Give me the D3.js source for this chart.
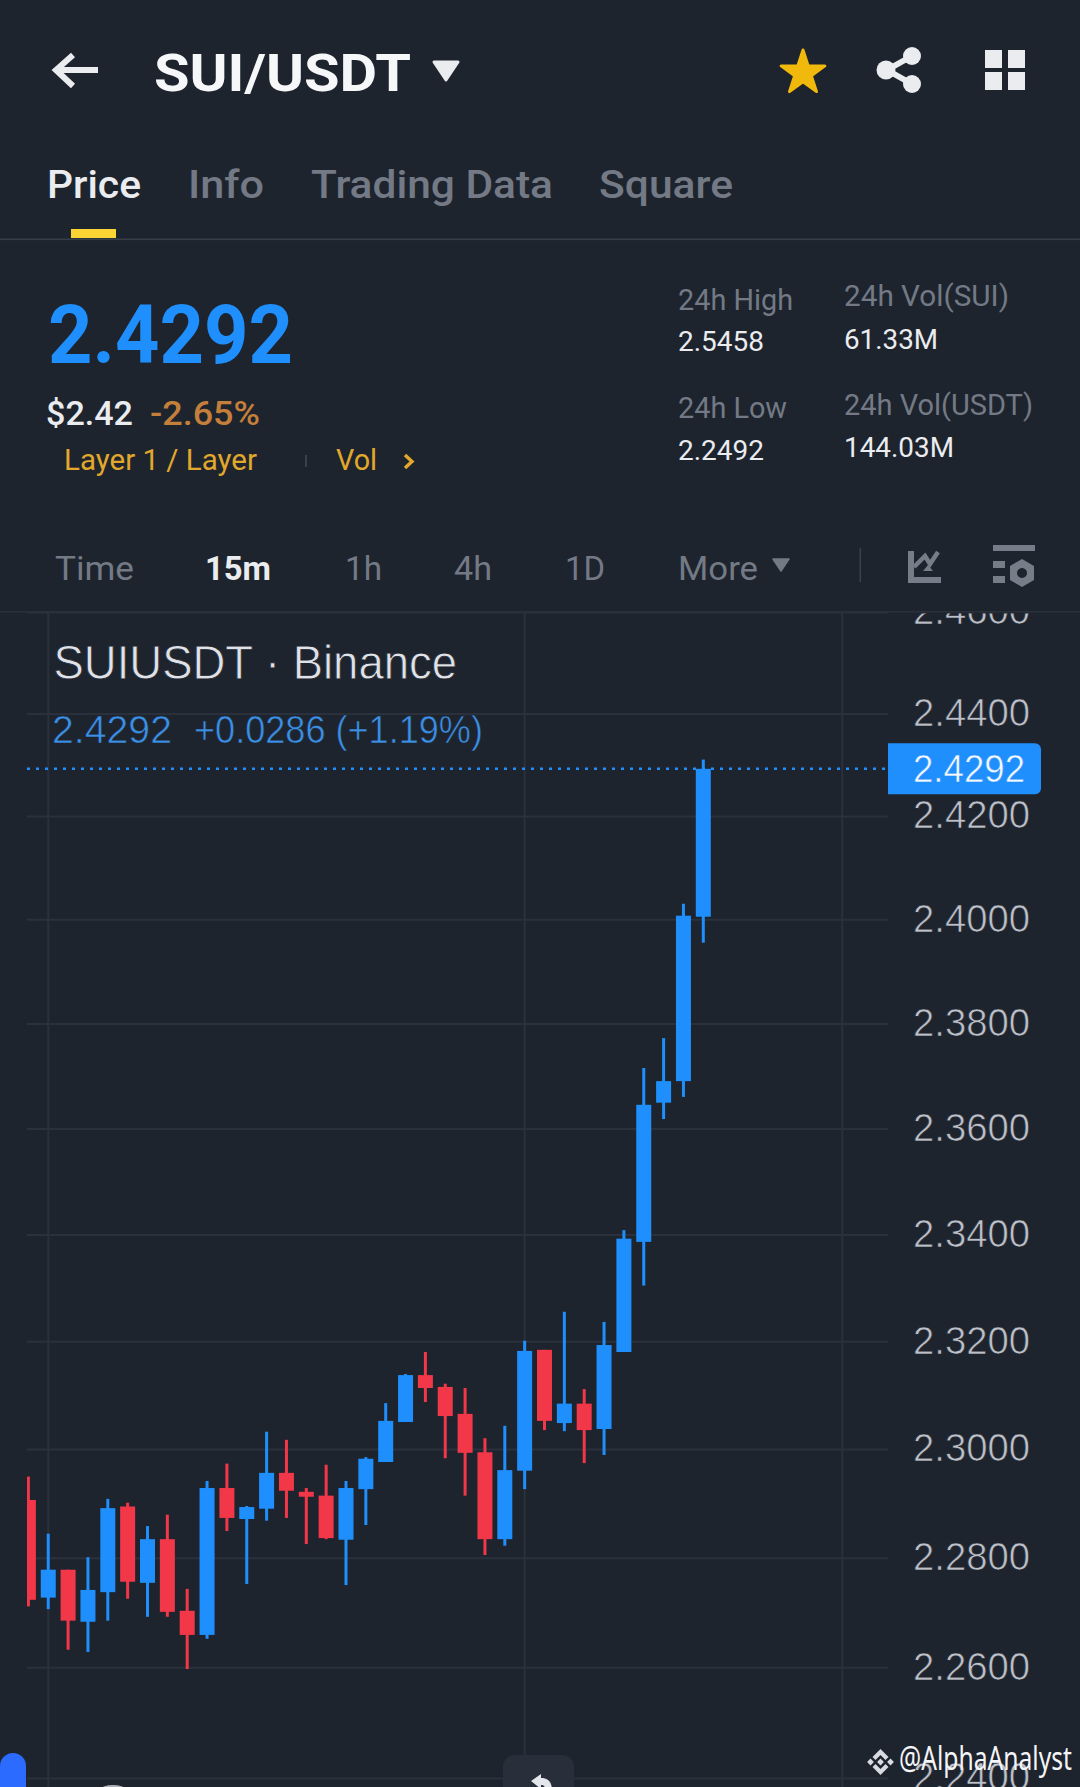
<!DOCTYPE html>
<html><head><meta charset="utf-8">
<style>html,body{margin:0;padding:0;background:#1e242e;overflow:hidden}svg{display:block}</style>
<script src="https://cdn.jsdelivr.net/npm/d3@7/dist/d3.min.js"></script>
</head><body><div id="c"></div>
<script>
const opens =[2.2906,2.2727,2.2778,2.2683,2.2737,2.2894,2.2754,2.2834,2.2703,2.2659,2.2928,2.2871,2.2890,2.2956,2.2921,2.2914,2.2833,2.2926,2.2976,2.3050,2.3137,2.3115,2.3065,2.2994,2.2834,2.2960,2.3184,2.3048,2.3084,2.3037,2.3180,2.3386,2.3649,2.3690,2.4005];
const highs =[2.2949,2.2844,2.2778,2.2801,2.2908,2.2901,2.2858,2.2879,2.2743,2.2941,2.2973,2.2895,2.3032,2.3017,2.2928,2.2971,2.2941,2.2985,2.3085,2.3139,2.3180,2.3121,2.3113,2.3020,2.3043,2.3201,2.3184,2.3255,2.3111,2.3236,2.3408,2.3715,2.3772,2.4030,2.4310];
const lows  =[2.2711,2.2706,2.2632,2.2628,2.2685,2.2725,2.2692,2.2692,2.2597,2.2652,2.2849,2.2752,2.2868,2.2873,2.2825,2.2834,2.2750,2.2860,2.2976,2.3050,2.3087,2.2983,2.2914,2.2805,2.2822,2.2926,2.3035,2.3033,2.2974,2.2989,2.3180,2.3304,2.3618,2.3660,2.3955];
const closes=[2.2723,2.2778,2.2685,2.2741,2.2891,2.2756,2.2834,2.2701,2.2659,2.2928,2.2873,2.2893,2.2956,2.2923,2.2912,2.2836,2.2928,2.2982,2.3052,2.3137,2.3113,2.3061,2.2993,2.2834,2.2961,2.3182,2.3052,2.3084,2.3035,2.3193,2.3392,2.3645,2.3690,2.4007,2.4292];
const candleIndex = d3.range(opens.length);
const priceTicks=[2.46,2.44,2.42,2.40,2.38,2.36,2.34,2.32,2.30,2.28,2.26,2.24];
const lastPrice=2.4292;
const timeTicks=[1,25,41];

const W=1080,H=1787, BG='#1e242e', BLUE='#1f8ffd', RED='#f23748', GRID='#2b313c', UI='Roboto, sans-serif', CH='"Liberation Sans", sans-serif';
const svg=d3.select('#c').append('svg').attr('width',W).attr('height',H).attr('viewBox',`0 0 ${W} ${H}`);
svg.append('rect').attr('width',W).attr('height',H).attr('fill',BG);

const defs=svg.append('defs');
defs.append('clipPath').attr('id','plot').append('rect').attr('x',27).attr('y',612).attr('width',861).attr('height',H-612);

const y=d3.scaleLog().domain([2.24,2.46]).range([1778,612]);
const x=d3.scaleLinear().domain([0,candleIndex.length-1]).range([28.4,703.3]);
const BODY=15, WICK=3;

// full-width separators
svg.append('rect').attr('x',0).attr('y',238.5).attr('width',W).attr('height',1.6).attr('fill','#383e49');
svg.append('rect').attr('x',0).attr('y',611).attr('width',W).attr('height',1.6).attr('fill','#2a303a');

// vertical grid
svg.append('g').selectAll('rect').data(timeTicks).join('rect')
  .attr('x',d=>x(d)-1).attr('y',612).attr('width',2).attr('height',H-612).attr('fill',GRID);

// axis (horizontal grid and labels)
const axis=d3.axisRight(y).tickValues(priceTicks).tickFormat(d3.format('.4f')).tickSize(861).tickPadding(0);
const ag=svg.append('g').attr('transform','translate(27,0)').call(axis);
ag.select('.domain').remove();
ag.selectAll('line').attr('stroke',GRID).attr('stroke-width',2);
ag.selectAll('text').attr('x',886).attr('fill','#bcc0c8').attr('stroke',BG).attr('stroke-width',0.7)
  .attr('font-family',CH).attr('font-size',38).attr('dy','0.31em').attr('textLength',117).attr('lengthAdjust','spacingAndGlyphs');
// the top label is cut by the chart's upper edge
defs.append('clipPath').attr('id','tickTop').append('rect').attr('x',850).attr('y',1).attr('width',200).attr('height',60);
ag.selectAll('.tick').filter(d=>d===2.46).select('text').attr('clip-path','url(#tickTop)');

// candles
const plot=svg.append('g').attr('clip-path','url(#plot)');
const color=i=>closes[i]>=opens[i]?BLUE:RED;
plot.selectAll('rect.w').data(candleIndex).join('rect').attr('class','w')
  .attr('x',i=>x(i)-WICK/2).attr('width',WICK)
  .attr('y',i=>y(highs[i])).attr('height',i=>y(lows[i])-y(highs[i])).attr('fill',color);
plot.selectAll('rect.b').data(candleIndex).join('rect').attr('class','b')
  .attr('x',i=>x(i)-BODY/2).attr('width',BODY)
  .attr('y',i=>y(Math.max(opens[i],closes[i]))).attr('height',i=>Math.abs(y(opens[i])-y(closes[i]))).attr('fill',color);

// last price line and tag
svg.append('line').attr('x1',27).attr('x2',888).attr('y1',y(lastPrice)).attr('y2',y(lastPrice))
  .attr('stroke',BLUE).attr('stroke-width',2.6).attr('stroke-dasharray','3 6');
svg.append('path').attr('d',`M888 ${y(lastPrice)-25.5}H1035a6 6 0 0 1 6 6V${y(lastPrice)+19.5}a6 6 0 0 1 -6 6H888Z`).attr('fill',BLUE);
svg.append('text').attr('x',913).attr('y',y(lastPrice)).attr('dy','0.36em').attr('fill','#f4f9ff').attr('stroke',BLUE).attr('stroke-width',0.6).attr('font-family',CH).attr('font-size',38).attr('textLength',112).attr('lengthAdjust','spacingAndGlyphs').text(d3.format('.4f')(lastPrice));

// text helper: x range, baseline
function T(s,x0,x1,b,size,fill,weight,font){
  return svg.append('text').attr('x',x0).attr('y',b).attr('font-family',font||UI).attr('font-size',size).attr('font-weight',weight||400)
    .attr('fill',fill).attr('textLength',x1-x0).attr('lengthAdjust','spacingAndGlyphs').text(s);
}
T('SUI/USDT',154,411,91,52,'#f6f7f8',700);
T('Price',47,141,198,39,'#eaecef',500);
const GREY='#737a85';
T('Info',188,264,198,39,GREY,500);
T('Trading Data',311,553,198,39,GREY,500);
T('Square',599,733,198,39,GREY,500);
svg.append('rect').attr('x',71).attr('y',229).attr('width',45).attr('height',9).attr('fill','#fcd535');

T('2.4292',48,293,363,82,BLUE,700);
T('$2.42',46,133,425,33,'#eaecef',500);
T('-2.65%',150,260,425,33,'#c47f3b',500);
T('Layer 1 / Layer',64,257,470,29,'#e2a82c',400);
svg.append('rect').attr('x',305).attr('y',455).attr('width',2).attr('height',12).attr('fill','#3a404b');
T('Vol',336,377,470,29,'#e2a82c',400);
svg.append('path').attr('d','M405 455l7 6.5-7 6.5').attr('fill','none').attr('stroke','#e2a82c').attr('stroke-width',3.4);

T('24h High',678,793,310,29,GREY);
T('2.5458',678,764,351,28,'#eaecef');
T('24h Vol(SUI)',844,1009,306,29,GREY);
T('61.33M',844,938,349,28,'#eaecef');
T('24h Low',678,787,417.5,29,GREY);
T('2.2492',678,764,459.5,28,'#eaecef');
T('24h Vol(USDT)',844,1033,415,29,GREY);
T('144.03M',844,954,457,28,'#eaecef');

T('Time',55,134,580,34,GREY);
T('15m',205,271,580,34,'#eaecef',700);
T('1h',345,382,580,34,GREY);
T('4h',454,492,580,34,GREY);
T('1D',565,605,580,34,GREY);
T('More',678,758,580,34,GREY);
svg.append('path').attr('d','M773 559H789L781 571Z').attr('fill',GREY).attr('stroke',GREY).attr('stroke-width',1.5).attr('stroke-linejoin','round');
svg.append('rect').attr('x',859.5).attr('y',548).attr('width',1.6).attr('height',34).attr('fill','#3a404b');

// chart legend
T('SUIUSDT · Binance',53.5,457,679,48,'#dfe2e8',400,CH).attr('stroke',BG).attr('stroke-width',0.8);
T('2.4292',52,172,743,38,'#3a90e6',400,CH).attr('stroke',BG).attr('stroke-width',0.6);
T('+0.0286 (+1.19%)',194,483,743,38,'#3a90e6',400,CH).attr('stroke',BG).attr('stroke-width',0.6);

// toolbar icons
svg.append('path').attr('d','M55 70H98M73 55L56 70L73 86').attr('fill','none').attr('stroke','#eaecef').attr('stroke-width',6).attr('stroke-linejoin','miter');
svg.append('path').attr('d','M434 62H458L446 80Z').attr('fill','#eaecef').attr('stroke','#eaecef').attr('stroke-width',3).attr('stroke-linejoin','round');
svg.append('path').attr('d',d3.symbol(d3.symbolStar,594)()).attr('transform','translate(803,73)').attr('fill','#f0b90b').attr('stroke','#f0b90b').attr('stroke-width',3).attr('stroke-linejoin','round');
const sh=svg.append('g').attr('fill','#eaecef');
sh.append('path').attr('d','M912 56L887 70L912 84').attr('fill','none').attr('stroke','#eaecef').attr('stroke-width',6);
[[912,56,9],[886,70,9.5],[912,84,9]].forEach(d=>sh.append('circle').attr('cx',d[0]).attr('cy',d[1]).attr('r',d[2]));
[[985,50],[1008,50],[985,72],[1008,72]].forEach(d=>svg.append('rect').attr('x',d[0]).attr('y',d[1]).attr('width',17).attr('height',18).attr('fill','#eaecef'));

// chart-type icon + settings icon
const IC='#767c88';
svg.append('path').attr('d','M911 551V580H941').attr('fill','none').attr('stroke',IC).attr('stroke-width',6);
svg.append('path').attr('d','M914 567L925 556L930 564L938 552').attr('fill','none').attr('stroke',IC).attr('stroke-width',4.5);
svg.append('path').attr('d','M923 571L928 565L933 571Z').attr('fill',IC);
svg.append('rect').attr('x',993).attr('y',545).attr('width',42).attr('height',6).attr('fill',IC);
svg.append('rect').attr('x',993).attr('y',561).attr('width',12).attr('height',7).attr('fill',IC);
svg.append('rect').attr('x',993).attr('y',576).attr('width',12).attr('height',7).attr('fill',IC);
svg.append('path').attr('fill-rule','evenodd').attr('fill',IC).attr('d','M1022 559L1034 566V580L1022 587L1010 580V566ZM1022 568a5 5 0 1 0 .01 0Z');

// bottom overlay elements
svg.append('path').attr('d','M0 1787V1766a13 13 0 0 1 26 0V1787Z').attr('fill','#2b6bff');
svg.append('ellipse').attr('cx',113).attr('cy',1789).attr('rx',12).attr('ry',4).attr('fill','#aeb2ba');
svg.append('path').attr('d','M503 1800V1767a12 12 0 0 1 12 -12H562a12 12 0 0 1 12 12V1800Z').attr('fill','#292f3a');
svg.append('path').attr('d','M531 1781L541 1774V1778C548 1778 552 1782 552 1790H545C545 1786 544 1785 541 1785V1789Z').attr('fill','#e3e6ea');

// watermark
const wm=svg.append('g').attr('fill','#d8dbe0').attr('transform','translate(880.5,1762)');
[[0,0],[-10,0],[10,0]].forEach(d=>wm.append('path').attr('d',`M${d[0]} ${d[1]-3.4}l3.4 3.4l-3.4 3.4l-3.4-3.4Z`));
wm.append('path').attr('d','M0 -13L8 -5L5 -2L0 -7L-5 -2L-8 -5Z');
wm.append('path').attr('d','M0 13L8 5L5 2L0 7L-5 2L-8 5Z');
T('@AlphaAnalyst',899,1072,1770,33,'#f4f5f7',400,'"Noto Sans", sans-serif');
</script></body></html>
